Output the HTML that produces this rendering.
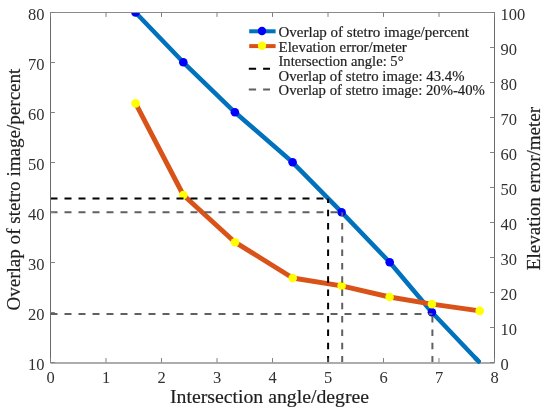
<!DOCTYPE html><html><head><meta charset="utf-8"><style>html,body{margin:0;padding:0;background:#fff;overflow:hidden;}svg{display:block}text{font-family:"Liberation Serif",serif;fill:#1e1e1e;stroke:#1e1e1e;stroke-width:0.18px}.tk{stroke-width:0;fill:#303030}</style></head><body>
<svg width="550" height="414" viewBox="0 0 550 414">
<defs><clipPath id="c"><rect x="50.5" y="12.5" width="444.0" height="354.0"/></clipPath></defs>
<rect width="550" height="414" fill="#fff"/>
<g clip-path="url(#c)">
<polyline fill="none" stroke="#0072BD" stroke-width="4.5" stroke-linejoin="round" stroke-linecap="round" points="135.5,12.5 183.3,62.3 234.9,112.3 292.6,162.3 341.6,212.2 389.7,262.3 431.9,312.3 478.7,361.5"/>
<circle cx="135.5" cy="12.5" r="4.3" fill="#0000FF"/>
<circle cx="183.3" cy="62.3" r="4.3" fill="#0000FF"/>
<circle cx="234.9" cy="112.3" r="4.3" fill="#0000FF"/>
<circle cx="292.6" cy="162.3" r="4.3" fill="#0000FF"/>
<circle cx="341.6" cy="212.2" r="4.3" fill="#0000FF"/>
<circle cx="389.7" cy="262.3" r="4.3" fill="#0000FF"/>
<circle cx="431.9" cy="312.3" r="4.3" fill="#0000FF"/>
<polyline fill="none" stroke="#D95319" stroke-width="4.9" stroke-linejoin="round" points="135.6,103.4 183.3,195.0 235.0,242.2 292.7,278.0 341.6,285.8 389.6,297.0 431.9,304.1 479.7,310.9"/>
<circle cx="135.6" cy="103.4" r="4.3" fill="#FFFF00"/>
<circle cx="183.3" cy="195.0" r="4.3" fill="#FFFF00"/>
<circle cx="235.0" cy="242.2" r="4.3" fill="#FFFF00"/>
<circle cx="292.7" cy="278.0" r="4.3" fill="#FFFF00"/>
<circle cx="341.6" cy="285.8" r="4.3" fill="#FFFF00"/>
<circle cx="389.6" cy="297.0" r="4.3" fill="#FFFF00"/>
<circle cx="431.9" cy="304.1" r="4.3" fill="#FFFF00"/>
<circle cx="479.7" cy="310.9" r="4.3" fill="#FFFF00"/>
<line x1="50.5" y1="198.4" x2="328.1" y2="198.4" stroke="#000" stroke-width="2" stroke-dasharray="7 7"/>
<line x1="328.1" y1="362.5" x2="328.1" y2="198.4" stroke="#000" stroke-width="2" stroke-dasharray="6.5 6.8"/>
<line x1="50.5" y1="212.2" x2="342.2" y2="212.2" stroke="#606060" stroke-width="2" stroke-dasharray="7 7"/>
<line x1="342.2" y1="362.5" x2="342.2" y2="212.2" stroke="#606060" stroke-width="2" stroke-dasharray="6.5 6.8"/>
<line x1="50.5" y1="313.9" x2="432.4" y2="313.9" stroke="#606060" stroke-width="2" stroke-dasharray="7 7"/>
<line x1="432.4" y1="362.5" x2="432.4" y2="313.9" stroke="#606060" stroke-width="2" stroke-dasharray="6.5 6.8"/>
</g>
<path d="M50.5 12.0V363.0 M494.5 12.0V363.0" stroke="#6a6a6a" stroke-width="1" fill="none"/>
<path d="M50.5 12.5H494.5" stroke="#8a8a8a" stroke-width="1" fill="none"/>
<path d="M50.5 363.0H494.5" stroke="#acacac" stroke-width="1.8" fill="none"/>
<path d="M50.5 362.5V358.1M50.5 12.5V16.9M106.0 362.5V358.1M106.0 12.5V16.9M161.5 362.5V358.1M161.5 12.5V16.9M217.0 362.5V358.1M217.0 12.5V16.9M272.5 362.5V358.1M272.5 12.5V16.9M328.0 362.5V358.1M328.0 12.5V16.9M383.5 362.5V358.1M383.5 12.5V16.9M439.0 362.5V358.1M439.0 12.5V16.9M494.5 362.5V358.1M494.5 12.5V16.9M50.5 12.5H54.9M50.5 62.5H54.9M50.5 112.5H54.9M50.5 162.5H54.9M50.5 212.5H54.9M50.5 262.5H54.9M50.5 312.5H54.9M50.5 362.5H54.9M494.5 12.5H490.1M494.5 47.5H490.1M494.5 82.5H490.1M494.5 117.5H490.1M494.5 152.5H490.1M494.5 187.5H490.1M494.5 222.5H490.1M494.5 257.5H490.1M494.5 292.5H490.1M494.5 327.5H490.1M494.5 362.5H490.1" stroke="#808080" stroke-width="1" fill="none"/>
<path d="M475.5 358.1L478.7 361.5" stroke="#0072BD" stroke-width="4.5" stroke-linecap="round" fill="none"/>
<text transform="translate(50.5,383) scale(1,1.06)" class="tk" font-size="16.5" text-anchor="middle">0</text>
<text transform="translate(106.0,383) scale(1,1.06)" class="tk" font-size="16.5" text-anchor="middle">1</text>
<text transform="translate(161.5,383) scale(1,1.06)" class="tk" font-size="16.5" text-anchor="middle">2</text>
<text transform="translate(217.0,383) scale(1,1.06)" class="tk" font-size="16.5" text-anchor="middle">3</text>
<text transform="translate(272.5,383) scale(1,1.06)" class="tk" font-size="16.5" text-anchor="middle">4</text>
<text transform="translate(328.0,383) scale(1,1.06)" class="tk" font-size="16.5" text-anchor="middle">5</text>
<text transform="translate(383.5,383) scale(1,1.06)" class="tk" font-size="16.5" text-anchor="middle">6</text>
<text transform="translate(439.0,383) scale(1,1.06)" class="tk" font-size="16.5" text-anchor="middle">7</text>
<text transform="translate(494.5,383) scale(1,1.06)" class="tk" font-size="16.5" text-anchor="middle">8</text>
<text transform="translate(44.5,19.7) scale(1,1.06)" class="tk" font-size="16.5" text-anchor="end">80</text>
<text transform="translate(44.5,69.7) scale(1,1.06)" class="tk" font-size="16.5" text-anchor="end">70</text>
<text transform="translate(44.5,119.7) scale(1,1.06)" class="tk" font-size="16.5" text-anchor="end">60</text>
<text transform="translate(44.5,169.7) scale(1,1.06)" class="tk" font-size="16.5" text-anchor="end">50</text>
<text transform="translate(44.5,219.7) scale(1,1.06)" class="tk" font-size="16.5" text-anchor="end">40</text>
<text transform="translate(44.5,269.7) scale(1,1.06)" class="tk" font-size="16.5" text-anchor="end">30</text>
<text transform="translate(44.5,319.7) scale(1,1.06)" class="tk" font-size="16.5" text-anchor="end">20</text>
<text transform="translate(44.5,369.7) scale(1,1.06)" class="tk" font-size="16.5" text-anchor="end">10</text>
<text transform="translate(500.5,19.8) scale(1,1.06)" class="tk" font-size="16.5">100</text>
<text transform="translate(500.5,54.8) scale(1,1.06)" class="tk" font-size="16.5">90</text>
<text transform="translate(500.5,89.8) scale(1,1.06)" class="tk" font-size="16.5">80</text>
<text transform="translate(500.5,124.8) scale(1,1.06)" class="tk" font-size="16.5">70</text>
<text transform="translate(500.5,159.8) scale(1,1.06)" class="tk" font-size="16.5">60</text>
<text transform="translate(500.5,194.8) scale(1,1.06)" class="tk" font-size="16.5">50</text>
<text transform="translate(500.5,229.8) scale(1,1.06)" class="tk" font-size="16.5">40</text>
<text transform="translate(500.5,264.8) scale(1,1.06)" class="tk" font-size="16.5">30</text>
<text transform="translate(500.5,299.8) scale(1,1.06)" class="tk" font-size="16.5">20</text>
<text transform="translate(500.5,334.8) scale(1,1.06)" class="tk" font-size="16.5">10</text>
<text transform="translate(500.5,369.8) scale(1,1.06)" class="tk" font-size="16.5">0</text>
<text x="170" y="402.6" font-size="19" textLength="199" lengthAdjust="spacingAndGlyphs">Intersection angle/degree</text>
<text transform="translate(20.3,310.6) rotate(-90)" font-size="19" textLength="242" lengthAdjust="spacingAndGlyphs">Overlap of stetro image/percent</text>
<text transform="translate(540.3,270.2) rotate(-90)" font-size="19" textLength="163.3" lengthAdjust="spacingAndGlyphs">Elevation error/meter</text>
<line x1="249.2" y1="31.3" x2="275.6" y2="31.3" stroke="#0072BD" stroke-width="4"/>
<circle cx="262" cy="31" r="4.2" fill="#0000FF"/>
<line x1="249.2" y1="46.1" x2="275.6" y2="46.1" stroke="#D95319" stroke-width="4"/>
<circle cx="262" cy="45.8" r="4.2" fill="#FFFF00"/>
<line x1="248.8" y1="68.7" x2="270" y2="68.7" stroke="#000" stroke-width="2" stroke-dasharray="7.3 7"/>
<line x1="248.8" y1="89.6" x2="270" y2="89.6" stroke="#606060" stroke-width="2" stroke-dasharray="7.3 7"/>
<text x="278.5" y="36.7" font-size="13.8" textLength="190.4" lengthAdjust="spacingAndGlyphs">Overlap of stetro image/percent</text>
<text x="278.5" y="51.6" font-size="13.8" textLength="128.3" lengthAdjust="spacingAndGlyphs">Elevation error/meter</text>
<text x="278.5" y="65.7" font-size="13.8" textLength="125.0" lengthAdjust="spacingAndGlyphs">Intersection angle: 5°</text>
<text x="278.5" y="80.6" font-size="13.8" textLength="186.0" lengthAdjust="spacingAndGlyphs">Overlap of stetro image: 43.4%</text>
<text x="278.5" y="95.1" font-size="13.8" textLength="206.4" lengthAdjust="spacingAndGlyphs">Overlap of stetro image: 20%-40%</text>
</svg></body></html>
